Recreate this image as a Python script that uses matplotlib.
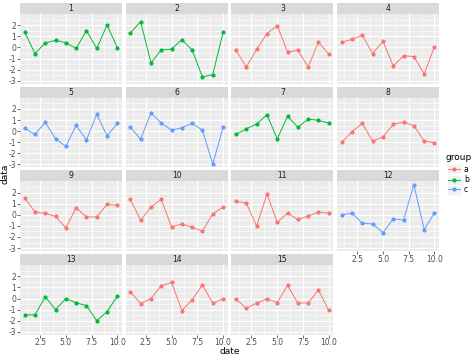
import matplotlib
matplotlib.use("Agg")
import matplotlib.pyplot as plt
from matplotlib.lines import Line2D
from matplotlib.patches import Rectangle
import numpy as np

date = list(range(1, 11))
panels = [str(i) for i in range(1, 16)]
groups = ["b", "b", "a", "a", "c", "c", "b", "a", "a", "a", "a", "c", "b", "a", "a"]
p1 = [1.39, -0.55, 0.39, 0.64, 0.42, -0.09, 1.52, -0.09, 2.03, -0.03]
p2 = [1.30, 2.33, -1.39, -0.24, -0.15, 0.70, -0.24, -2.67, -2.45, 1.36]
p3 = [-0.27, -1.76, -0.18, 1.24, 1.97, -0.42, -0.24, -1.76, 0.48, -0.61]
p4 = [0.48, 0.73, 1.09, -0.55, 0.55, -1.67, -0.76, -0.82, -2.39, 0.06]
p5 = [0.24, -0.30, 0.79, -0.70, -1.36, 0.52, -0.79, 1.52, -0.42, 0.70]
p6 = [0.36, -0.73, 1.64, 0.73, 0.09, 0.30, 0.70, 0.09, -2.97, 0.33]
p7 = [-0.30, 0.21, 0.64, 1.48, -0.70, 1.33, 0.36, 1.09, 0.97, 0.73]
p8 = [-1.00, -0.06, 0.70, -0.91, -0.52, 0.61, 0.82, 0.48, -0.88, -1.06]
p9 = [1.52, 0.27, 0.12, -0.15, -1.18, 0.64, -0.21, -0.18, 0.94, 0.85]
p10 = [1.39, -0.48, 0.70, 1.39, -1.09, -0.82, -1.12, -1.48, 0.09, 0.70]
p11 = [1.21, 1.06, -1.03, 1.88, -0.67, 0.15, -0.42, -0.12, 0.24, 0.15]
p12 = [0.00, 0.15, -0.76, -0.82, -1.61, -0.36, -0.48, 2.73, -1.33, 0.18]
p13 = [-1.48, -1.48, 0.15, -1.00, 0.00, -0.39, -0.64, -2.00, -1.18, 0.21]
p14 = [0.61, -0.45, 0.00, 1.15, 1.45, -1.09, -0.12, 1.24, -0.42, -0.03]
p15 = [-0.06, -0.88, -0.42, -0.03, -0.36, 1.18, -0.42, -0.39, 0.76, -1.06]
series = [p1, p2, p3, p4, p5, p6, p7, p8, p9, p10, p11, p12, p13, p14, p15]

group_names = ["a", "b", "c"]
colors = {"a": "#F8766D", "b": "#00BA38", "c": "#619CFF"}
xticks = [2.5, 5.0, 7.5, 10.0]
xticklabels = ["2.5", "5.0", "7.5", "10.0"]
yticks = [-3, -2, -1, 0, 1, 2]

W, H = 474, 355
fig = plt.figure(figsize=(W / 100, H / 100), dpi=100)
fig.patch.set_facecolor("white")

def rect(x0, y0, w, h):
    return [x0 / W, 1 - (y0 + h) / H, w / W, h / H]

def fx(x):
    return x / W

def fy(y):
    return 1 - y / H

allv = np.concatenate([np.array(s) for s in series])
ymin, ymax = allv.min(), allv.max()
yr = ymax - ymin
ylim = (ymin - 0.05 * yr, ymax + 0.05 * yr)
xlim = (1 - 0.45, 10 + 0.45)

col_x = [20 + i * 105.7 for i in range(4)]
row_y = [14 + j * 83.7 for j in range(4)]
pw, ph, sh = 102, 69.5, 11

for k, (name, g, vals) in enumerate(zip(panels, groups, series)):
    r, c = divmod(k, 4)
    ax = fig.add_axes(rect(col_x[c], row_y[r], pw, ph))
    ax.set_facecolor("#EBEBEB")
    ax.set_xlim(*xlim)
    ax.set_ylim(*ylim)
    ax.set_xticks(xticks)
    ax.set_xticks([1.25, 3.75, 6.25, 8.75], minor=True)
    ax.set_yticks(yticks)
    ax.set_yticks([-2.5, -1.5, -0.5, 0.5, 1.5, 2.5], minor=True)
    ax.grid(True, which="major", color="white", lw=0.8)
    ax.grid(True, which="minor", color="white", lw=0.4)
    ax.set_axisbelow(True)
    for s in ax.spines.values():
        s.set_visible(False)
    ax.tick_params(which="minor", length=0)
    ax.tick_params(which="major", length=2, width=0.5, color="#333333",
                   labelsize=5.5, labelcolor="#4D4D4D", pad=0.8)
    bottom = (k + 4 >= len(panels))
    if bottom:
        ax.set_xticklabels(xticklabels)
    else:
        ax.tick_params(axis="x", length=0, labelbottom=False)
    if c == 0:
        ax.set_yticklabels([str(t) for t in yticks])
    else:
        ax.tick_params(axis="y", length=0, labelleft=False)
    ax.plot(date, vals, color=colors[g], lw=0.7, marker="o", ms=2.0, zorder=3)

    sax = fig.add_axes(rect(col_x[c], row_y[r] - sh, pw, sh))
    sax.set_facecolor("#D9D9D9")
    sax.set_xticks([]); sax.set_yticks([])
    for s in sax.spines.values():
        s.set_visible(False)
    sax.text(0.5, 0.5, name, ha="center", va="center", fontsize=5.5, color="#1A1A1A",
             transform=sax.transAxes)

fig.text(fx(230), fy(351), "date", ha="center", va="center", fontsize=6.5, color="black")
fig.text(fx(5), fy(174), "data", ha="center", va="center", fontsize=6.5, rotation=90,
         color="black")

# legend
fig.text(fx(446), fy(157.5), "group", ha="left", va="center", fontsize=6.5, color="black")
key_y = [169, 179.5, 189.5]
for g, yy in zip(group_names, key_y):
    fig.patches.append(Rectangle((fx(447), fy(yy + 5)), 14 / W, 10 / H,
                                 transform=fig.transFigure, facecolor="#F2F2F2",
                                 edgecolor="white", lw=0.5))
    fig.lines.append(Line2D([fx(448), fx(460)], [fy(yy), fy(yy)], transform=fig.transFigure,
                            color=colors[g], lw=0.7))
    fig.lines.append(Line2D([fx(454)], [fy(yy)], transform=fig.transFigure,
                            color=colors[g], marker="o", ms=2.0, lw=0))
    fig.text(fx(464), fy(yy), g, ha="left", va="center", fontsize=5.5, color="black")

fig.savefig("out.png", dpi=100)
